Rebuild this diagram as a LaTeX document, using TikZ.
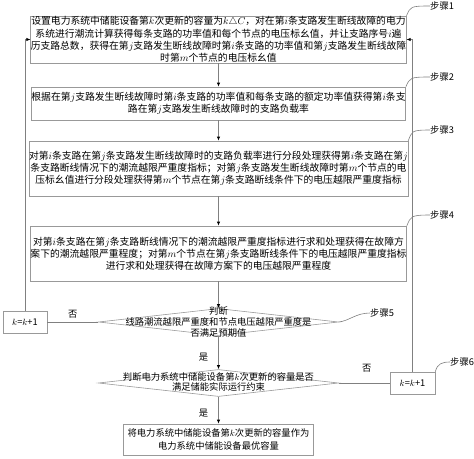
\documentclass[tikz,border=0pt]{standalone}
\usepackage{fontspec}
\setmainfont{Noto Sans CJK SC}
\usetikzlibrary{arrows.meta,shapes.geometric}

\begin{document}
\begin{tikzpicture}[x=1pt,y=-1pt,
  box/.style={draw=black!40,line width=0.6pt,inner sep=0pt,align=center,minimum width=361pt,font=\fontsize{9.8}{12.2}\selectfont},
  smallbox/.style={draw=black!40,line width=0.6pt,inner sep=0pt,align=center,font=\fontsize{9.3}{13}\selectfont},
  dec/.style={draw=black!40,line width=0.6pt,diamond,inner sep=0pt,minimum width=240pt,minimum height=27pt},
  dectext/.style={align=center,inner sep=0pt,font=\fontsize{9.3}{10.8}\selectfont},
  line/.style={draw=black!50,line width=0.6pt},
  arr/.style={line,-{Latex[length=4pt,width=3.2pt,black]}},
  tag/.style={anchor=west,inner sep=0pt,font=\fontsize{9.3}{10}\selectfont},
  lbl/.style={inner sep=0pt,font=\fontsize{9.3}{10}\selectfont}]
\useasboundingbox (0,0) rectangle (474,458);

\node[box,minimum height=47pt] (b1) at (218.5,39.5) {设置电力系统中储能设备第$k$次更新的容量为$k\triangle C$，对在第$i$条支路发生断线故障的电力\\系统进行潮流计算获得每条支路的功率值和每个节点的电压标幺值，并让支路序号$i$遍\\历支路总数，获得在第$j$支路发生断线故障时第$i$条支路的功率值和第$j$支路发生断线故障\\时第$m$个节点的电压标幺值};
\node[box,minimum height=33pt] (b2) at (218.5,103.5) {根据在第$j$支路发生断线故障时第$i$条支路的功率值和每条支路的额定功率值获得第$i$条支\\路在第$j$支路发生断线故障时的支路负载率};
\node[box,minimum height=55pt] (b3) at (218.5,168.5) {对第$i$条支路在第$j$条支路发生断线故障时的支路负载率进行分段处理获得第$i$条支路在第$j$\\条支路断线情况下的潮流越限严重度指标；对第$j$条支路发生断线故障时第$m$个节点的电\\压标幺值进行分段处理获得第$m$个节点在第$j$条支路断线条件下的电压越限严重度指标};
\node[box,minimum height=55pt] (b4) at (218.5,253.5) {对第$i$条支路在第$j$条支路断线情况下的潮流越限严重度指标进行求和处理获得在故障方\\案下的潮流越限严重程度；对第$m$个节点在第$j$条支路断线条件下的电压越限严重度指标\\进行求和处理获得在故障方案下的电压越限严重程度};

\node[dec] (d1) at (218.5,322) {};
\node[dectext] (t1) at (d1.center) {判断\\线路潮流越限严重度和节点电压越限严重度是\\否满足预期值};
\node[dec] (d2) at (218.5,383) {};
\node[dectext] (t2) at ([yshift=1pt]d2.center) {判断电力系统中储能设备第$k$次更新的容量是否\\满足储能实际运行约束};
\node[smallbox,minimum width=190pt,minimum height=31pt] (fin) at (218.5,439.5) {将电力系统中储能设备第$k$次更新的容量作为\\电力系统中储能设备最优容量};

\node[smallbox,minimum width=44pt,minimum height=22pt] (kl) at (25,322) {$k$=$k$+1};
\node[smallbox,minimum width=45pt,minimum height=22pt] (kr) at (412.5,383) {$k$=$k$+1};

\draw[arr] (b1) -- (b2);
\draw[arr] (b2) -- (b3);
\draw[arr] (b3) -- (b4);
\draw[arr] (b4) -- (d1);
\draw[arr] (d1) -- (d2) node[lbl,pos=0.65,left=10pt] {是};
\draw[arr] (d2) -- (fin) node[lbl,pos=0.6,left=10pt] {是};
\draw[line] (d1) -- (kl) node[lbl,midway,above=3pt] {否};
\draw[arr] (kl) |- (b1);
\draw[line] (d2) -- (kr) node[lbl,pos=0.55,above=10pt] {否};
\draw[arr] (kr) |- (b1);

\node[tag] (s1) at (430,6) {步骤1};
\node[tag] (s2) at (430,77) {步骤2};
\node[tag] (s3) at (430,130) {步骤3};
\node[tag] (s4) at (430,215) {步骤4};
\node[tag] (s5) at (370,313) {步骤5};
\node[tag] (s6) at (450,362) {步骤6};
\draw[line] (b1.north east) .. controls +(4,-9) and +(-20,0) .. (s1.west);
\draw[line] (b2.north east) .. controls +(4,-9) and +(-20,0) .. (s2.west);
\draw[line] (b3.north east) .. controls +(4,-9) and +(-20,0) .. (s3.west);
\draw[line] (b4.north east) .. controls +(4,-9) and +(-20,0) .. (s4.west);
\draw[line] (d1.east) .. controls +(10,-1) and +(-14,0) .. (s5.west);
\draw[line] (kr.north east) .. controls +(2,-8) and +(-8,0) .. (s6.west);
\end{tikzpicture}
\end{document}
